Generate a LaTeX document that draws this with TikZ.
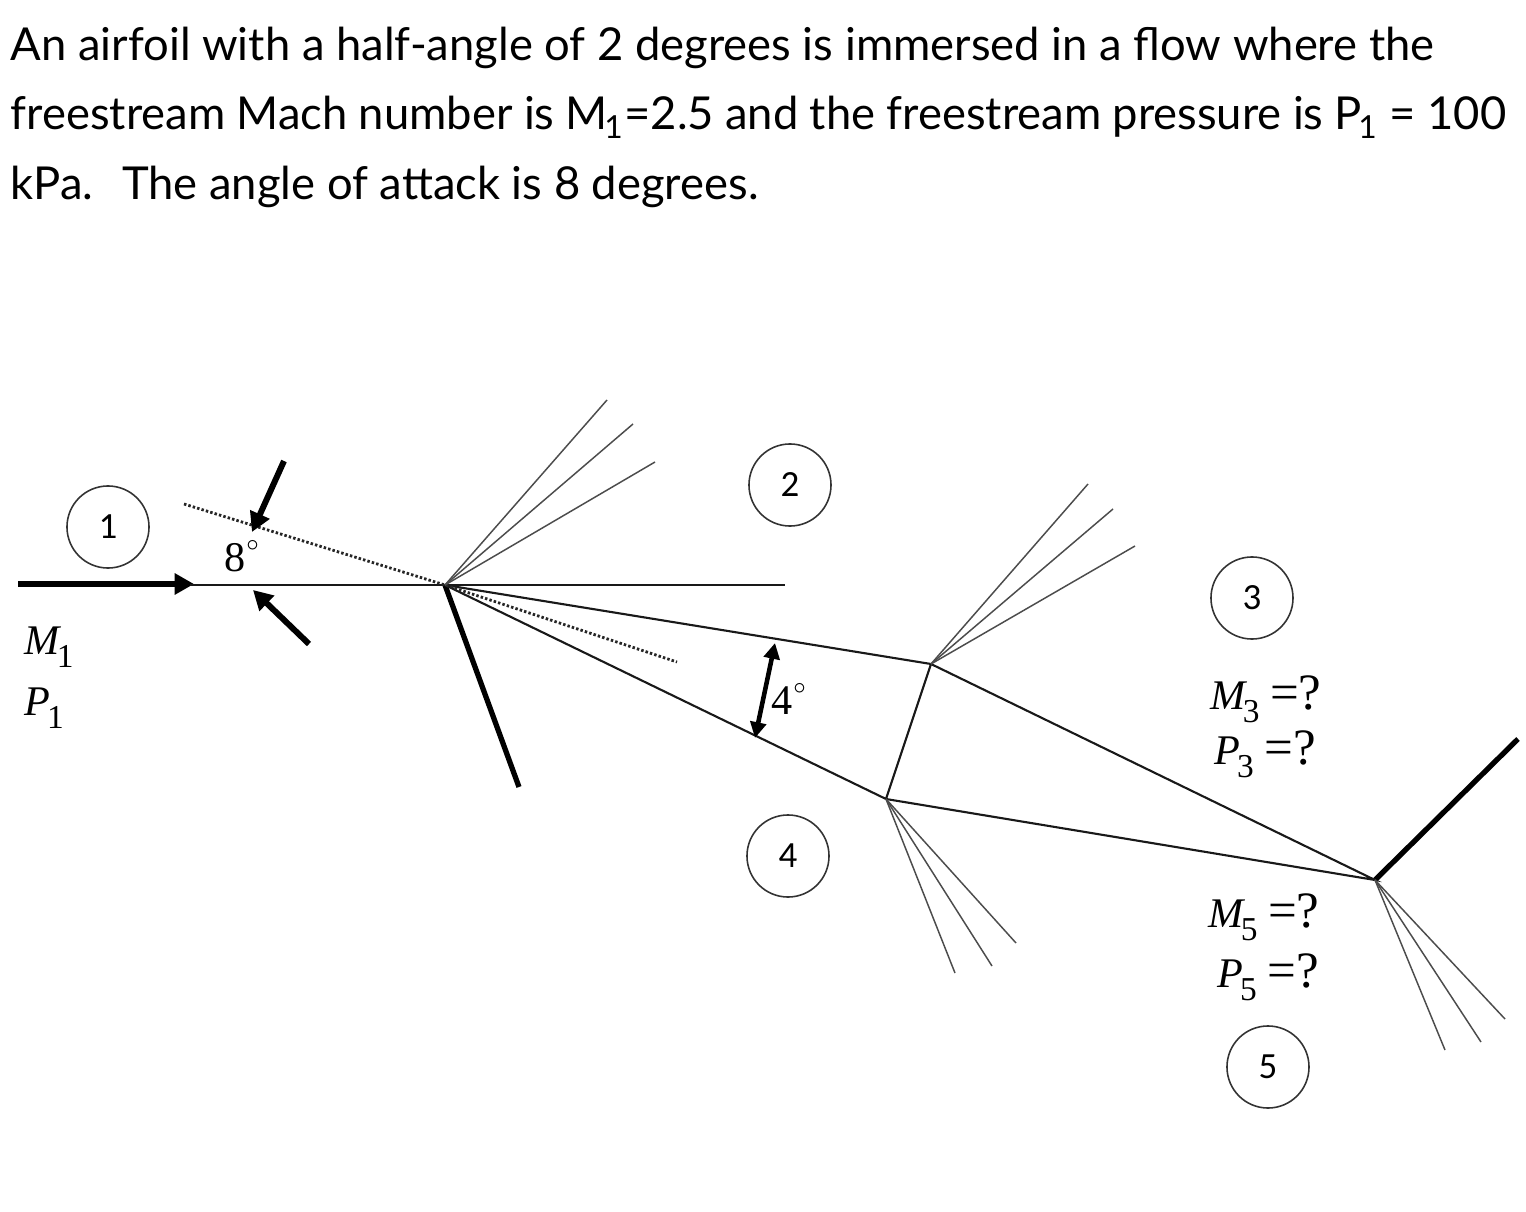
\documentclass[tikz,border=0pt]{standalone}
\usepackage{fontspec}
\setmainfont{Lato}
\newfontfamily\zonefont{Carlito}
\newfontfamily\varfont{Liberation Serif}
\usetikzlibrary{arrows.meta}
\newcommand{\flowvar}[2]{{\itshape #1}\kern-0.8pt\raisebox{-0.3em}{\fontsize{9.5}{12}\selectfont #2}}
\newcommand{\asked}{\kern3pt{\fontsize{14.5}{14}\selectfont =?}}
\newcommand{\degmark}{\raisebox{0.12em}{$^{\scriptscriptstyle\circ}$}}
\tikzset{
  zone/.style={draw=black!80,circle,line width=0.45pt,minimum size=0.82cm,inner sep=0pt,font=\zonefont\fontsize{10.5}{12}\selectfont},
  flowlabel/.style={inner sep=0pt,font=\varfont\fontsize{12}{14}\selectfont},
  wave/.style={draw=black!70,line width=0.42pt},
  shock/.style={draw=black!90,line width=0.6pt},
  plate/.style={draw=black,line width=1.5pt},
  refline/.style={draw=black!85,line width=0.8pt,dash pattern=on 0.7pt off 0.6pt},
  pointer/.style={draw=black,line width=1.7pt,-{Triangle[length=5.5pt,width=5.8pt]}}
}
\begin{document}
\begin{tikzpicture}[x=0.01cm,y=-0.01cm]
\useasboundingbox (0,0) rectangle (1526,1212);
\node[anchor=north west,inner sep=0pt,align=left,font=\fontsize{12.9}{19.85}\selectfont] (question) at (10,26)
{An airfoil with a half-angle of 2 degrees is immersed in a flow where the\\
{\spaceskip=3.2pt freestream Mach number is M\kern-1pt\textsubscript{1}=2.5 and the freestream pressure is P\kern-1pt\textsubscript{1} = 100}\\
kPa.\ \ \kern1.5pt The angle of attack is 8 degrees.};
% flow corners
\coordinate (lead) at (445,585);
\coordinate (upper) at (931,664);
\coordinate (lower) at (886,799);
\coordinate (trail) at (1375,880);
\coordinate (flapa) at (519,787);
\coordinate (flapb) at (1518,739);
\coordinate (inflow) at (18,584);
\coordinate (inhead) at (194,584);
\coordinate (instart) at (190,585);
\coordinate (horizon) at (785,585);
\coordinate (dota) at (184,504);
\coordinate (dotb) at (677,662);
% thick lines
\draw[plate] (lead) -- (flapa);
\draw[plate] (trail) -- (flapb);
\draw[pointer] (inflow) -- (inhead);
% surfaces
\draw[shock] (instart) -- (horizon);
\draw[shock] (lead) -- (upper) -- (lower) -- (lead);
\draw[shock] (upper) -- (trail) -- (lower);
\draw[refline] (dota) -- (lead) -- (dotb);
% fans
\foreach \corner/\xa/\ya/\xb/\yb/\xc/\yc in {
  lead/607/400/633/424/655/462,
  upper/1088/484/1113/509/1135/546,
  lower/1016/943/992/966/955/973,
  trail/1505/1019/1481/1042/1445/1050}{
  \draw[wave] (\corner) -- (\xa,\ya);
  \draw[wave] (\corner) -- (\xb,\yb);
  \draw[wave] (\corner) -- (\xc,\yc);
}
% angle pointers
\coordinate (ptra) at (284,461);
\coordinate (ptrb) at (252,532);
\coordinate (ptrc) at (309,644);
\coordinate (ptrd) at (253,590);
\coordinate (spana) at (775,643);
\coordinate (spanb) at (755,738);
\draw[pointer] (ptra) -- (ptrb);
\draw[pointer] (ptrc) -- (ptrd);
\draw[draw=black,line width=1.3pt,{Triangle[length=4.5pt,width=4.5pt]}-{Triangle[length=4.5pt,width=4.5pt]}] (spana) -- (spanb);
% zones
\node[zone] (zone1) at (108,527) {1};
\node[zone] (zone2) at (790,485) {2};
\node[zone] (zone3) at (1252,598) {3};
\node[zone] (zone4) at (788,856) {4};
\node[zone] (zone5) at (1268,1067) {5};
% labels
\node[flowlabel] (m1) at (49,647) {\flowvar{M}{1}};
\node[flowlabel] (p1) at (44,708) {\flowvar{P}{1}};
\node[flowlabel] (ang8) at (243,556) {8\degmark};
\node[flowlabel] (ang4) at (790,699) {4\degmark};
\node[flowlabel] (m3) at (1266,699) {\flowvar{M}{3}\asked};
\node[flowlabel] (p3) at (1265,754) {\flowvar{P}{3}\asked};
\node[flowlabel] (m5) at (1264,917) {\flowvar{M}{5}\asked};
\node[flowlabel] (p5) at (1268,977) {\flowvar{P}{5}\asked};
\end{tikzpicture}
\end{document}
